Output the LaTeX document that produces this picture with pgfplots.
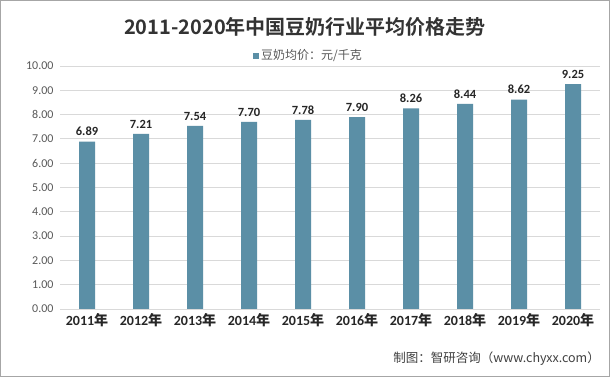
\documentclass[border=0pt]{standalone}
\usepackage{pgfplots}
\pgfplotsset{compat=1.18}
\usepackage{fontspec}
\setmainfont{Carlito}
\newfontfamily\cjk{Noto Sans CJK SC}
\newfontfamily\cjkb{Noto Sans CJK SC Bold}
\definecolor{barc}{RGB}{91,143,166}
\definecolor{gridc}{RGB}{217,217,217}
\definecolor{tickc}{RGB}{89,89,89}
\begin{document}
\begin{tikzpicture}[x=1pt,y=1pt]
\fill[white] (0,0) rectangle (610,377);
\draw[gray!70, line width=1pt] (0.5,0.5) rectangle (609.5,376.5);
\node[font=\cjkb\fontsize{20}{22}\selectfont, text=black!80] at (305,350) {2011-2020年中国豆奶行业平均价格走势};
\fill[barc] (253,318) rectangle (259,324);
\node[anchor=west, font=\cjk\fontsize{12}{14}\selectfont, text=tickc, inner sep=1pt] at (260,321) {豆奶均价：元/千克};
\node[anchor=east, font=\cjk\fontsize{12.5}{14}\selectfont, text=black!75, inner sep=1pt] at (601,18) {制图：智研咨询（www.chyxx.com）};
\begin{axis}[
  at={(60pt,68pt)}, anchor=south west,
  scale only axis, width=540pt, height=243pt,
  xmin=-0.5, xmax=9.5, ymin=0, ymax=10,
  ytick={0,1,...,10},
  xtick={0,...,9},
  xticklabels={2011{\cjkb 年},2012{\cjkb 年},2013{\cjkb 年},2014{\cjkb 年},2015{\cjkb 年},2016{\cjkb 年},2017{\cjkb 年},2018{\cjkb 年},2019{\cjkb 年},2020{\cjkb 年}},
  x tick label style={font=\bfseries\fontsize{14}{15}\selectfont, text=black!85, yshift=-1pt},
  y tick label style={font=\fontsize{12}{13}\selectfont, text=tickc, xshift=-3pt, /pgf/number format/.cd, fixed, fixed zerofill, precision=2},
  /pgf/number format/assume math mode=true,
  ymajorgrids, grid style={gridc, line width=0.8pt},
  axis x line*=bottom, axis y line*=left,
  y axis line style={draw=none},
  x axis line style={gridc, line width=0.8pt, -},
  major tick length=0pt,
  ybar, bar width=16pt,
  nodes near coords,
  every node near coord/.append style={font=\bfseries\fontsize{12.5}{13}\selectfont, text=black!85, yshift=2pt, /pgf/number format/.cd, fixed, fixed zerofill, precision=2, assume math mode=true},
  clip=false,
]
\addplot[fill=barc, draw=none] coordinates {(0,6.89) (1,7.21) (2,7.54) (3,7.70) (4,7.78) (5,7.90) (6,8.26) (7,8.44) (8,8.62) (9,9.25)};
\end{axis}
\end{tikzpicture}
\end{document}
